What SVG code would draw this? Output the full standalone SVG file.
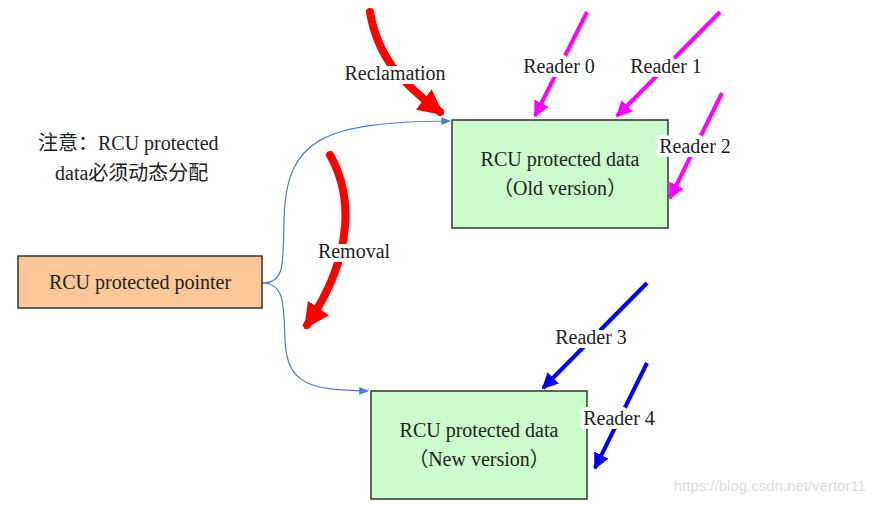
<svg xmlns="http://www.w3.org/2000/svg" width="876" height="505" viewBox="0 0 876 505">
<defs>
<style>
text{font-family:"Liberation Serif","Noto Sans CJK SC",serif;font-size:20px;fill:#222}
.lbl{paint-order:stroke;stroke:#fff;stroke-width:8px;stroke-linejoin:round}
.box{stroke:#333;stroke-width:1.5}
.pk{stroke:#ff00ff;stroke-width:4;fill:none}
.bl{stroke:#0000ff;stroke-width:4;fill:none}
.rd{stroke:#ff0000;stroke-width:8;fill:none;stroke-linecap:round}
.cn{stroke:#4a7fd0;stroke-width:1.2;fill:none}
</style>
<marker id="mp" viewBox="0 0 10 10" refX="9" refY="5" markerWidth="4" markerHeight="4" orient="auto"><path d="M0,0L10,5L0,10z" fill="#ff00ff"/></marker>
<marker id="mb" viewBox="0 0 10 10" refX="9" refY="5" markerWidth="4" markerHeight="4" orient="auto"><path d="M0,0L10,5L0,10z" fill="#0000ff"/></marker>
<marker id="mr" viewBox="0 0 10 10" refX="8" refY="5" markerWidth="3.2" markerHeight="3.2" orient="auto"><path d="M0,0L10,5L0,10z" fill="#ff0000"/></marker>
<marker id="mc" viewBox="0 0 10 10" refX="9" refY="5" markerWidth="8" markerHeight="8" orient="auto"><path d="M0,1L10,5L0,9z" fill="#4a7fd0"/></marker>
</defs>
<rect width="876" height="505" fill="#fff"/>
<g id="connectors">
<path class="cn" d="M262,283 C285,283 283,265 284,220 C286,140 320,122 450,121" marker-end="url(#mc)"/>
<path class="cn" d="M262,283 C283,283 284,300 285,340 C287,385 310,390 368,391" marker-end="url(#mc)"/>
<path class="rd" d="M370,12 C378,60 405,85 440,112" marker-end="url(#mr)"/>
<path class="rd" d="M330,155 C350,190 358,250 307,325" marker-end="url(#mr)"/>
<path class="pk" d="M587,12 L535,116" marker-end="url(#mp)"/>
<path class="pk" d="M720,12 L617,116" marker-end="url(#mp)"/>
<path class="pk" d="M722,93 L670,198" marker-end="url(#mp)"/>
<path class="bl" d="M647,283 L543,388" marker-end="url(#mb)"/>
<path class="bl" d="M647,363 L595,468" marker-end="url(#mb)"/>
</g>
<g id="note">
<text x="38" y="150">注意：RCU protected</text>
<text x="55" y="180">data必须动态分配</text>
</g>
<g id="pointer">
<rect class="box" x="18" y="256" width="244" height="52" fill="#fac898"/>
<text x="140" y="289" text-anchor="middle">RCU protected pointer</text>
</g>
<g id="old">
<rect class="box" x="452" y="120" width="216" height="108" fill="#ccfccc"/>
<text x="560" y="166" text-anchor="middle">RCU protected data</text>
<text x="560" y="195" text-anchor="middle">（Old version）</text>
</g>
<g id="new">
<rect class="box" x="371" y="391" width="216" height="108" fill="#ccfccc"/>
<text x="479" y="437" text-anchor="middle">RCU protected data</text>
<text x="479" y="466" text-anchor="middle">（New version）</text>
</g>
<g id="labels">
<text class="lbl" x="395" y="80" text-anchor="middle">Reclamation</text>
<text class="lbl" x="354" y="258" text-anchor="middle">Removal</text>
<text class="lbl" x="559" y="73" text-anchor="middle">Reader 0</text>
<text class="lbl" x="666" y="73" text-anchor="middle">Reader 1</text>
<text class="lbl" x="695" y="153" text-anchor="middle">Reader 2</text>
<text class="lbl" x="591" y="344" text-anchor="middle">Reader 3</text>
<text class="lbl" x="619" y="425" text-anchor="middle">Reader 4</text>
</g>
<text x="866" y="491" text-anchor="end" style="font-family:'Liberation Sans',sans-serif;font-size:15px;fill:#ddd">https://blog.csdn.net/vertor11</text>
</svg>
